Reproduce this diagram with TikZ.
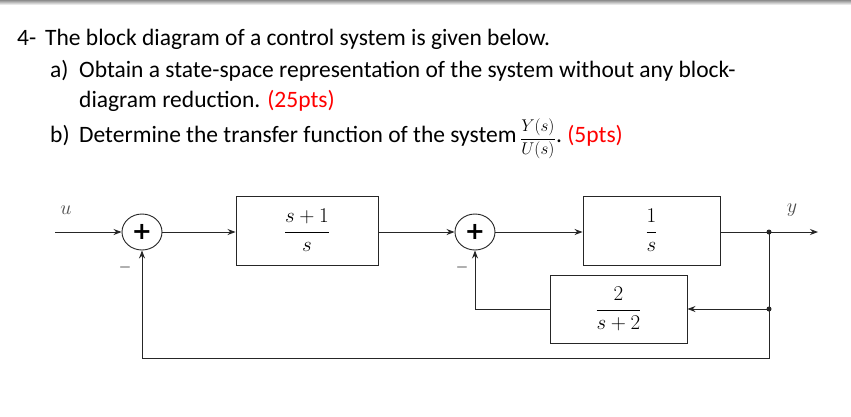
\RequirePackage{fix-cm}
\documentclass[tikz,border=0pt]{standalone}
\usepackage{fontspec}
\setmainfont{Carlito}
\newfontfamily\plusfont{DejaVu Sans}
\usetikzlibrary{shapes.geometric,arrows.meta}
\begin{document}
\begin{tikzpicture}[x=1pt,y=-1pt,
  line/.style={line width=0.9pt, draw=black!85},
  arr/.style={line, -{Stealth[length=8pt,width=6pt]}},
  sumnode/.style={ellipse, draw=black!85, line width=0.9pt, minimum width=40pt, minimum height=36pt, inner sep=0pt, font=\plusfont\bfseries\fontsize{24}{24}\selectfont},
  blk/.style={rectangle, draw=black!85, line width=0.9pt, inner sep=0pt, font=\fontsize{21}{24}\selectfont},
  txt/.style={anchor=base west, inner sep=0pt, font=\fontsize{23.5}{28}\selectfont},
  lbl/.style={inner sep=0pt, text=black!70, font=\fontsize{20}{22}\selectfont},
  dot/.style={fill=black!85}
]
\useasboundingbox (0,0) rectangle (851,416);
\fill[white] (0,0) rectangle (851,416);
\shade[top color=black!45, bottom color=white] (0,0) rectangle (851,5);

% text
\node[txt] (t1a) at (17,45) {4-};
\node[txt] (t1b) at (45,45) {The block diagram of a control system is given below.};
\node[txt] (t2a) at (50,77) {a)};
\node[txt] (t2b) at (79,77) {Obtain a state-space representation of the system without any block-};
\node[txt] (t3) at (79,107) {diagram reduction. \textcolor{red}{(25pts)}};
\node[txt] (t4a) at (50,142) {b)};
\node[txt] (t4b) at (79,142) {Determine the transfer function of the system};
\node[inner sep=0pt, anchor=west, font=\fontsize{17}{20}\selectfont] (frac) at ([xshift=3pt,yshift=3pt]t4b.base east) {$\displaystyle\frac{Y(s)}{U(s)}$};
\node[txt] (t4c) at (frac.east |- t4b.base) {.\ \textcolor{red}{(5pts)}};

% diagram
\node[sumnode] (s1) at (142,232) {+};
\node[blk, minimum width=142pt, minimum height=69pt] (b1) at (307,230.5) {$\displaystyle\frac{s+1}{s}$};
\node[sumnode] (s2) at (475,232) {+};
\node[blk, minimum width=137pt, minimum height=69pt] (b2) at (651.5,230.5) {$\displaystyle\frac{1}{s}$};
\node[blk, minimum width=137pt, minimum height=68pt] (b3) at (618.5,309) {$\displaystyle\frac{2}{s+2}$};

\coordinate (in) at (55,232);
\coordinate (bp1) at (769,232);
\coordinate (bp2) at (769,309);
\coordinate (out) at (818,232);
\coordinate (bot) at (769,358);

\node[lbl] (ulbl) at (66,210) {$u$};
\node[lbl] (ylbl) at (792,210) {$y$};
\node[inner sep=0pt, font=\fontsize{16}{16}\selectfont] (m1) at (125,267) {$-$};
\node[inner sep=0pt, font=\fontsize{16}{16}\selectfont] (m2) at (462,267) {$-$};

\draw[arr] (in) -- (s1.west);
\draw[arr] (s1.east) -- (s1.east -| b1.west);
\draw[arr] (s1.east -| b1.east) -- (s2.west);
\draw[arr] (s2.east) -- (s2.east -| b2.west);
\draw[line] (s2.east -| b2.east) -- (bp1);
\draw[arr] (bp1) -- (out);
\draw[arr] (bp2) -- (b3.east);
\draw[arr] (b3.west) -| (s2.south);
\draw[arr] (bp1) -- (bot) -| (s1.south);
\fill[dot] (bp1) circle (2.5pt);
\fill[dot] (bp2) circle (2.5pt);
\end{tikzpicture}
\end{document}
